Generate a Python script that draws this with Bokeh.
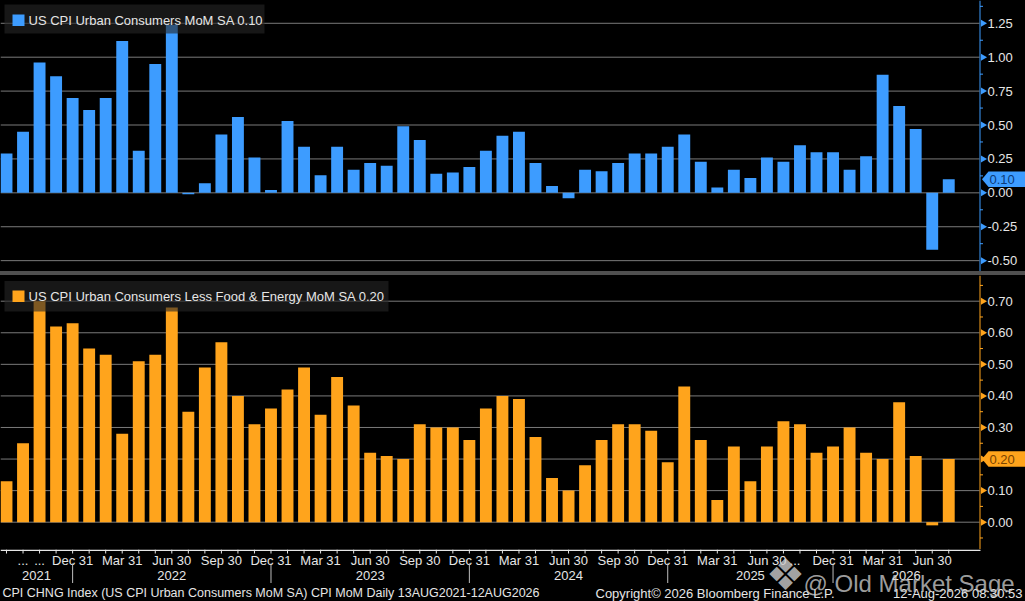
import math
import pandas as pd
from bokeh.plotting import figure
from bokeh.models import ColumnDataSource, Range1d, Div, GlobalInlineStyleSheet
from bokeh.layouts import column
from bokeh.core.properties import value
from bokeh.embed import file_html
from bokeh.resources import INLINE

# ---------------- data ----------------
months = [str(p) for p in pd.period_range("2021-08", "2026-07", freq="M")
          if str(p) not in ("2025-10", "2025-11")]

headline = [0.29, 0.45, 0.96, 0.86, 0.70, 0.61, 0.70, 1.12, 0.31, 0.95,
            1.24, -0.01, 0.07, 0.43, 0.56, 0.26, 0.02, 0.53, 0.34, 0.13,
            0.34, 0.17, 0.22, 0.20, 0.49, 0.39, 0.14, 0.15, 0.19, 0.31,
            0.42, 0.45, 0.22, 0.05, -0.04, 0.17, 0.16, 0.22, 0.29, 0.29,
            0.34, 0.43, 0.23, 0.04, 0.17, 0.11, 0.26, 0.23, 0.35, 0.30,
            0.30, 0.17, 0.27, 0.87, 0.64, 0.47, -0.42, 0.10]

core = [0.13, 0.25, 0.70, 0.62, 0.63, 0.55, 0.53, 0.28, 0.51, 0.53,
        0.68, 0.35, 0.49, 0.57, 0.40, 0.31, 0.36, 0.42, 0.49, 0.34,
        0.46, 0.37, 0.22, 0.21, 0.20, 0.31, 0.30, 0.30, 0.26, 0.36,
        0.40, 0.39, 0.27, 0.14, 0.10, 0.18, 0.26, 0.31, 0.31, 0.29,
        0.19, 0.43, 0.26, 0.07, 0.24, 0.13, 0.24, 0.32, 0.31, 0.22,
        0.24, 0.30, 0.22, 0.20, 0.38, 0.21, -0.01, 0.20]

quarter_ticks = [1, 2, 4, 7, 10, 13, 16, 19, 22, 25, 28, 31, 34, 37, 40, 43, 46, 47.7, 50, 53, 56]
quarter_labels = ["...", "...", "Dec 31", "Mar 31", "Jun 30", "Sep 30", "Dec 31", "Mar 31",
                  "Jun 30", "Sep 30", "Dec 31", "Mar 31", "Jun 30", "Sep 30", "Dec 31",
                  "Mar 31", "Jun 30", "...", "Dec 31", "Mar 31", "Jun 30"]
years = ["2021", "2022", "2023", "2024", "2025", "2026"]

top_ticks = [-0.50, -0.25, 0.00, 0.25, 0.50, 0.75, 1.00, 1.25]
top_minor = [-0.625, -0.375, -0.125, 0.125, 0.375, 0.625, 0.875, 1.125, 1.375]
bot_ticks = [0.00, 0.10, 0.20, 0.30, 0.40, 0.50, 0.60, 0.70]
bot_minor = [-0.05, 0.05, 0.15, 0.25, 0.35, 0.45, 0.55, 0.65, 0.75]

head_name = "US CPI Urban Consumers MoM SA"
core_name = "US CPI Urban Consumers Less Food & Energy MoM SA"
footer_left = "CPI CHNG Index (US CPI Urban Consumers MoM SA) CPI MoM Daily 13AUG2021-12AUG2026"
footer_mid = "Copyright\u00a9 2026 Bloomberg Finance L.P."
footer_right = "12-Aug-2026 08:30:53"
watermark = "@ Old Market Sage"

# ---------------- layout constants ----------------
BLUE = "#3d9cff"
ORANGE = "#ffa41c"
TXT = "#e6e6e6"
GRID = "#7a7a7a"
FONT = "Liberation Sans"
W = 1025            # full canvas width
PW = 979            # x pixel of the value axis
TOP_H, SEP_H, BOT_H, FOOT_H = 271, 4, 274, 52
X0, X1 = -0.363, 58.86          # data x at pixel 0 and pixel PW
XR = X0 + W / PW * (X1 - X0)     # data x at right edge of canvas
TY0, TY1 = -0.580, 1.418
BY0, BY1 = -0.0865, 0.7814


def px_x(px):
    return X0 + px / PW * (X1 - X0)


def py_y(py, h, y0, y1):
    return y1 - py / h * (y1 - y0)


idx = list(range(len(months)))
src = ColumnDataSource(dict(x=idx, headline=headline, core=core, month=months))


def make_fig(h, y0, y1):
    p = figure(frame_width=W, frame_height=h, x_range=Range1d(X0, XR), y_range=Range1d(y0, y1),
               x_axis_location=None, y_axis_location=None,
               output_backend="svg", toolbar_location=None,
               background_fill_color="black", border_fill_color="black", outline_line_color=None,
               min_border_left=0, min_border_top=0, min_border_right=0, min_border_bottom=0)
    p.grid.visible = False
    return p


def grid(p, ticks):
    p.segment(x0=[X0] * len(ticks), x1=[px_x(PW)] * len(ticks), y0=ticks, y1=ticks,
              line_color=GRID, line_width=1)


def value_axis(p, ticks, minor, y0, y1, color):
    xa = px_x(PW + 0.5)
    p.segment(x0=[xa], x1=[xa], y0=[y0], y1=[y1], line_color=color, line_width=1)
    p.segment(x0=[xa] * len(minor), x1=[px_x(PW + 3.5)] * len(minor), y0=minor, y1=minor,
              line_color=color, line_width=1)
    p.scatter(x=[px_x(PW + 3.5)] * len(ticks), y=ticks, marker="triangle", angle=-math.pi / 2,
              size=7, fill_color=color, line_color=None)
    p.text(x=[px_x(PW + 8)] * len(ticks), y=ticks, text=[f"{t:.2f}" for t in ticks],
           text_align="left", text_baseline="middle", text_font=value(FONT),
           text_font_size=value("13px"), text_color=TXT)


def tag(p, v, px_per_unit, fill, tcolor):
    dy = 7.8 / px_per_unit
    p.patch(x=[px_x(981.5), px_x(988), px_x(W), px_x(W), px_x(988)],
            y=[v, v + dy, v + dy, v - dy, v - dy], fill_color=fill, line_color=None)
    p.text(x=[px_x(989)], y=[v], text=[f"{v:.2f}"], text_align="left", text_baseline="middle",
           text_font=value(FONT), text_font_size=value("13px"), text_color=tcolor)


def legend_box(p, h, y0, y1, label, color, box_top, box_bot, box_right, sw_top, text_mid):
    def yy(py):
        return py_y(py, h, y0, y1)
    p.quad(left=[px_x(4)], right=[px_x(box_right)], top=[yy(box_top)], bottom=[yy(box_bot)],
           fill_color="#262626", fill_alpha=0.6, line_color=None)
    p.quad(left=[px_x(12)], right=[px_x(24)], top=[yy(sw_top)], bottom=[yy(sw_top + 11.5)],
           fill_color=color, line_color=None)
    p.text(x=[px_x(28)], y=[yy(text_mid)], text=[label], text_align="left",
           text_baseline="middle", text_font=value(FONT), text_font_size=value("13px"),
           text_color=TXT)


# ---------------- top panel ----------------
top = make_fig(TOP_H, TY0, TY1)
grid(top, top_ticks)
top.vbar(x="x", top="headline", width=0.72, source=src, fill_color=BLUE, line_color=None)
value_axis(top, top_ticks, top_minor, TY0, TY1, BLUE)
tag(top, headline[-1], TOP_H / (TY1 - TY0), BLUE, "#0b3a78")
legend_box(top, TOP_H, TY0, TY1, f"{head_name} {headline[-1]:.2f}", BLUE,
           4, 33, 264, 14, 20)

# ---------------- bottom panel ----------------
bot = make_fig(BOT_H, BY0, BY1)
grid(bot, bot_ticks)
bot.vbar(x="x", top="core", width=0.72, source=src, fill_color=ORANGE, line_color=None)
value_axis(bot, bot_ticks, bot_minor, BY0, BY1, ORANGE)
tag(bot, core[-1], BOT_H / (BY1 - BY0), ORANGE, "#7a4300")
legend_box(bot, BOT_H, BY0, BY1, f"{core_name} {core[-1]:.2f}", ORANGE,
           5.5, 36, 388, 15, 21)

# ---------------- time axis / footer (y measured in pixels downward) ----------------
foot = make_fig(FOOT_H, FOOT_H, 0)
foot.segment(x0=[X0], x1=[px_x(PW + 1)], y0=[0.8], y1=[0.8], line_color=TXT, line_width=1.5)
foot.segment(x0=idx, x1=idx, y0=[0] * len(idx), y1=[4] * len(idx), line_color=TXT, line_width=1)
foot.text(x=quarter_ticks, y=[10.5] * len(quarter_ticks), text=quarter_labels,
          text_align="center", text_baseline="middle", text_font=value(FONT),
          text_font_size=value("13px"), text_color=TXT)

dec_idx = [i for i, m in enumerate(months) if m.endswith("-12")]
edges = [X0] + dec_idx + [X1]
year_centers = [(a + b) / 2 for a, b in zip(edges[:-1], edges[1:])]
foot.segment(x0=dec_idx, x1=dec_idx, y0=[14] * len(dec_idx), y1=[33.5] * len(dec_idx),
             line_color="#bdbdbd", line_width=1)
foot.text(x=year_centers, y=[26] * len(year_centers), text=years, text_align="center",
          text_baseline="middle", text_font=value(FONT), text_font_size=value("13px"),
          text_color=TXT)

foot.text(x=[px_x(2)], y=[43.5], text=[footer_left], text_align="left", text_baseline="middle",
          text_font=value(FONT), text_font_size=value("12.5px"), text_color=TXT)
foot.text(x=[px_x(595), px_x(1022)], y=[43.5, 43.5], text=[footer_mid, footer_right],
          text_align=["left", "right"], text_baseline="middle",
          text_font=value(FONT), text_font_size=value("13px"), text_color=TXT)

foot.text(x=[px_x(785)], y=[25], text=["\u2756"], text_align="center", text_baseline="middle",
          text_font=value("DejaVu Sans"), text_font_size=value("44px"),
          text_color="#d0d0d0", text_alpha=0.8)
foot.text(x=[px_x(803)], y=[34], text=[watermark], text_align="left",
          text_baseline="alphabetic", text_font=value(FONT), text_font_size=value("24px"),
          text_color="#d0d0d0", text_alpha=0.75)

sep = Div(width=W, height=SEP_H, margin=0, styles={"background-color": "#505050"})

css = GlobalInlineStyleSheet(css="html, body { margin: 0 !important; padding: 0 !important; "
                                 "background-color: #000000; overflow: hidden; }")
layout = column(top, sep, bot, foot, spacing=0, stylesheets=[css])

open("out.html", "w").write(file_html(layout, INLINE))
